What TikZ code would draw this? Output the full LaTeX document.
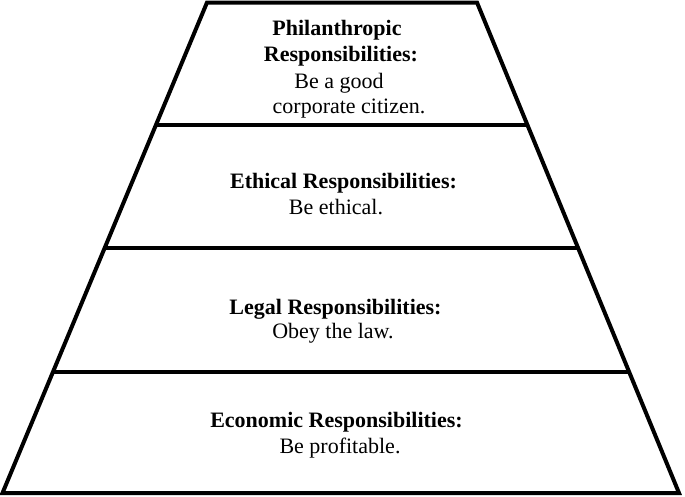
\documentclass[tikz,border=0pt]{standalone}
\usepackage{fontspec}
\setmainfont{Liberation Serif}
\usetikzlibrary{calc}
\tikzset{
  edge/.style={line width=4pt, line join=miter, black},
  txt/.style={anchor=base, inner sep=0pt, font=\fontsize{22}{25}\selectfont},
  btxt/.style={txt, font=\fontsize{22}{25}\selectfont\bfseries}
}
\begin{document}
\begin{tikzpicture}[x=1pt,y=-1pt]
\useasboundingbox (0,0) rectangle (685,496);
\coordinate (tl) at (207,2.5);
\coordinate (tr) at (477,2.5);
\coordinate (br) at (679,493);
\coordinate (bl) at (2.5,493);
\draw[edge] (tl) -- (tr) -- (br) -- (bl) -- cycle;
\coordinate (l1) at ($(tl)!0.2505!(bl)$);
\coordinate (r1) at ($(tr)!0.2505!(br)$);
\coordinate (l2) at ($(tl)!0.501!(bl)$);
\coordinate (r2) at ($(tr)!0.501!(br)$);
\coordinate (l3) at ($(tl)!0.7536!(bl)$);
\coordinate (r3) at ($(tr)!0.7536!(br)$);
\draw[edge] (l1) -- (r1);
\draw[edge] (l2) -- (r2);
\draw[edge] (l3) -- (r3);
\node[btxt] (p1) at (337,35) {Philanthropic};
\node[btxt] (p2) at (341,61) {Responsibilities:};
\node[txt] (p3) at (339,88) {Be a good};
\node[txt] (p4) at (349,113) {corporate citizen.};
\node[btxt] (e1) at (343.5,188) {Ethical Responsibilities:};
\node[txt] (e2) at (336,214) {Be ethical.};
\node[btxt] (g1) at (335.5,314) {Legal Responsibilities:};
\node[txt] (g2) at (333,338) {Obey the law.};
\node[btxt] (c1) at (336.5,427) {Economic Responsibilities:};
\node[txt] (c2) at (340,453) {Be profitable.};
\end{tikzpicture}
\end{document}
